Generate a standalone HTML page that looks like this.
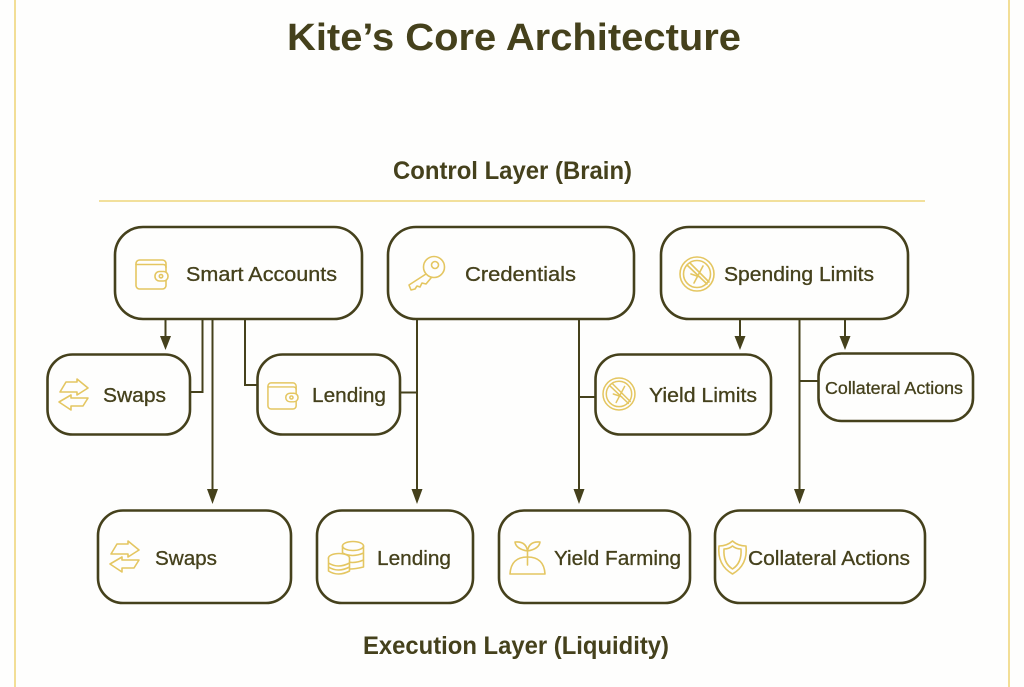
<!DOCTYPE html>
<html>
<head>
<meta charset="utf-8">
<style>
html,body{margin:0;padding:0;background:#fefefd;width:1024px;height:687px;overflow:hidden}
svg{display:block}
text{font-family:"Liberation Sans",sans-serif;fill:#45411c}
.m{stroke:#45411c;stroke-width:.3;font-size:20px}
.b{font-weight:bold}
.n{fill:#fefefd;stroke:#45411c;stroke-width:2.6}
.c{fill:none;stroke:#45411c;stroke-width:2}
.a{fill:#45411c;stroke:none}
.i{fill:none;stroke:#e4c661;stroke-width:1.6;stroke-linejoin:round;stroke-linecap:round}
</style>
</head>
<body>
<svg width="1024" height="687" viewBox="0 0 1024 687" xmlns="http://www.w3.org/2000/svg">
<defs>
<g id="wallet" class="i">
  <rect x="1" y="1" width="30" height="29" rx="3.500"/>
  <path d="M1 5.500H28Q31 5.500 31 8.500"/>
  <rect x="20" y="12.500" width="13" height="9.500" rx="4.500" fill="#fefefd"/>
  <circle cx="26" cy="17.200" r="1.700"/>
</g>
<g id="swap" class="i">
  <path d="M7 2H18V-1L29 8L18 15V12H1Z"/>
  <path d="M12 15V18H29L24 26H12V30L0 22Z"/>
</g>
<g id="ban" class="i">
  <circle cx="17" cy="17" r="17"/>
  <circle cx="17" cy="17" r="13.500"/>
  <path d="M7 8L27 27M10 6L29 25M23 9L14 26M11 17L20 20"/>
</g>
</defs>

<rect width="1024" height="687" fill="#fefefd"/>
<line x1="15" y1="0" x2="15" y2="687" stroke="#eed67c" stroke-width="1.600"/>
<line x1="1009" y1="0" x2="1009" y2="687" stroke="#eed67c" stroke-width="1.600"/>
<line x1="99" y1="201" x2="925" y2="201" stroke="#eed67c" stroke-width="1.600"/>

<text x="287" y="50" class="b" font-size="38" textLength="454" lengthAdjust="spacingAndGlyphs">Kite’s Core Architecture</text>
<text x="393" y="179" class="b" font-size="25" textLength="239" lengthAdjust="spacingAndGlyphs">Control Layer (Brain)</text>
<text x="363" y="654" class="b" font-size="25" textLength="306" lengthAdjust="spacingAndGlyphs">Execution Layer (Liquidity)</text>

<!-- connectors -->
<path class="c" d="M165.500 319V340M202.500 319V392H190M212.500 319V492M245 319V385H257M417 319V492M400 392.500H417M579 319V492M579 397H595M740 319V338M799.500 319V492M799.500 381H818M845 319V338"/>
<path class="a" d="M160 336H171L165.500 350ZM207 489H218L212.500 504ZM411.500 489H422.500L417 504ZM573.500 489H584.500L579 504ZM734.500 336H745.500L740 350ZM794 489H805L799.500 504ZM839.500 336H850.500L845 350Z"/>

<!-- nodes -->
<rect class="n" x="115" y="227" width="247" height="92" rx="28"/>
<rect class="n" x="388" y="227" width="246" height="92" rx="28"/>
<rect class="n" x="661" y="227" width="247" height="92" rx="28"/>
<rect class="n" x="47.500" y="354.500" width="142.500" height="80" rx="25"/>
<rect class="n" x="257.500" y="354.500" width="142.500" height="80" rx="25"/>
<rect class="n" x="595.500" y="354.500" width="175.500" height="80" rx="25"/>
<rect class="n" x="818.500" y="353.500" width="154.500" height="67.500" rx="23"/>
<rect class="n" x="98" y="510.500" width="193" height="92.500" rx="25"/>
<rect class="n" x="317" y="510.500" width="156" height="92.500" rx="25"/>
<rect class="n" x="499" y="510.500" width="191" height="92.500" rx="25"/>
<rect class="n" x="715" y="510.500" width="210" height="92.500" rx="25"/>

<!-- labels -->
<text class="m" x="186" y="281" textLength="151" lengthAdjust="spacingAndGlyphs">Smart Accounts</text>
<text class="m" x="465" y="281" textLength="111" lengthAdjust="spacingAndGlyphs">Credentials</text>
<text class="m" x="724" y="281" textLength="150" lengthAdjust="spacingAndGlyphs">Spending Limits</text>
<text class="m" x="103" y="402" textLength="63" lengthAdjust="spacingAndGlyphs">Swaps</text>
<text class="m" x="312" y="402" textLength="74" lengthAdjust="spacingAndGlyphs">Lending</text>
<text class="m" x="649" y="402" textLength="108" lengthAdjust="spacingAndGlyphs">Yield Limits</text>
<text class="m" x="825" y="394" style="font-size:17.500px" textLength="138" lengthAdjust="spacingAndGlyphs">Collateral Actions</text>
<text class="m" x="155" y="565" textLength="62" lengthAdjust="spacingAndGlyphs">Swaps</text>
<text class="m" x="377" y="565" textLength="74" lengthAdjust="spacingAndGlyphs">Lending</text>
<text class="m" x="554" y="565" textLength="127" lengthAdjust="spacingAndGlyphs">Yield Farming</text>
<text class="m" x="748" y="565" textLength="162" lengthAdjust="spacingAndGlyphs">Collateral Actions</text>

<!-- icons -->
<use href="#wallet" x="135" y="259"/>
<use href="#wallet" transform="translate(267,382) scale(.94,.9)"/>
<use href="#swap" x="59" y="380"/>
<use href="#swap" x="110" y="542"/>
<use href="#ban" x="680" y="257"/>
<use href="#ban" transform="translate(603,378) scale(.94)"/>
<!-- key -->
<g class="i">
  <circle cx="434" cy="267" r="10.500"/>
  <circle cx="435" cy="265" r="3.500"/>
  <path d="M426 274L409 285L411 290L415 289L417 286L420 287L422 283L426 284L431 278"/>
</g>
<!-- coins -->
<g class="i">
  <ellipse cx="353" cy="546" rx="10.500" ry="4.500"/>
  <path d="M342.500 546V567Q347 571 363.500 567V546M342.500 553Q352 558 363.500 553M342.500 560Q352 565 363.500 560"/>
  <ellipse cx="339" cy="558" rx="10.500" ry="4.500" fill="#fefefd"/>
  <path d="M328.500 558V571Q338 577 349.500 571V558M328.500 563Q338 569 349.500 563M328.500 567Q338 573 349.500 567" fill="#fefefd"/>
</g>
<!-- sprout -->
<g class="i">
  <path d="M510 574H545Q544 557 527.500 557Q511 557 510 574Z"/>
  <path d="M527.500 557V565M527.500 557V550M527.500 551Q516 549 515 542Q526 541 527.500 551ZM527.500 551Q539 549 540 542Q529 541 527.500 551Z"/>
</g>
<!-- shield -->
<g class="i">
  <path d="M732.500 541Q738 546 746 546Q748 565 732.500 574Q717 565 719 546Q727 546 732.500 541Z"/>
  <path d="M732.500 546Q736 549 741 549Q742 563 732.500 569Q723 563 724 549Q729 549 732.500 546Z"/>
</g>
</svg>
</body>
</html>
